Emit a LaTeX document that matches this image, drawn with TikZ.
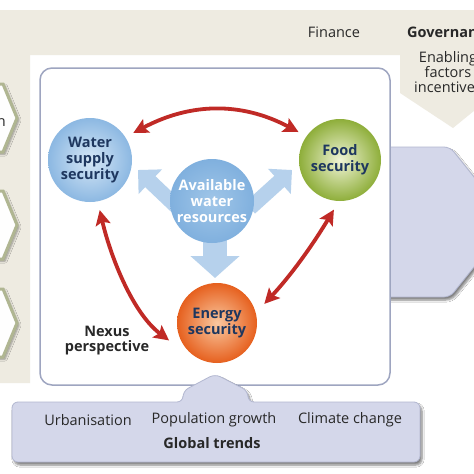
\documentclass[tikz,border=0pt]{standalone}
\usepackage{fontspec}
\setmainfont{Open Sans}
\usetikzlibrary{arrows.meta,shadows.blur}
\definecolor{beige}{RGB}{238,235,225}
\definecolor{lav}{RGB}{212,215,234}
\definecolor{lavline}{RGB}{178,183,208}
\definecolor{framec}{RGB}{158,165,192}
\definecolor{navy}{RGB}{30,55,95}
\definecolor{arrred}{RGB}{192,42,38}
\definecolor{fatblue}{RGB}{182,209,236}
\definecolor{hexline}{RGB}{176,182,146}
\definecolor{txt}{RGB}{40,40,40}
\begin{document}
\begin{tikzpicture}[x=1pt,y=-1pt,
  lbl/.style={font=\fontsize{14.5}{15}\selectfont, text=txt, inner sep=0pt},
  blbl/.style={lbl, font=\fontsize{14.5}{15}\selectfont\bfseries},
  ball/.style={circle, inner sep=0pt, align=center, font=\fontsize{14.5}{16}\selectfont\bfseries, text=navy},
  redarrow/.style={draw=arrred, line width=3.8pt, {Stealth[length=15pt,width=15pt,inset=3pt]}-{Stealth[length=15pt,width=15pt,inset=3pt]}},
  fatarrow/.style={draw=fatblue, line width=15pt, -{Triangle[length=17pt,width=33pt]}},
  panel/.style={fill=lav, draw=lavline, line width=0.8pt, rounded corners=6, blur shadow={shadow xshift=2pt, shadow yshift=-3pt, shadow blur steps=6, shadow opacity=50}},
  hexshape/.style={fill=white!96!beige, draw=hexline, line width=3pt, blur shadow={shadow xshift=2pt, shadow yshift=-2pt, shadow blur steps=5, shadow opacity=40}},
]
\useasboundingbox (0,0) rectangle (474,474);
\clip (0,0) rectangle (474,474);
\fill[white] (0,0) rectangle (474,474);
% beige background band
\fill[beige] (0,10) -- (480,10) -- (480,106) -- (453,128) -- (400,93) -- (400,55) -- (30,55) -- (30,383) -- (0,383) -- cycle;
% left hexagons
\foreach \c in {118,225,323}
  \draw[hexshape] (-30,\c-34) -- (3,\c-34) -- (17,\c) -- (3,\c+34) -- (-30,\c+34) -- cycle;
\node[lbl, anchor=east] (ntext) at (6,123) {n};
% right lavender arrow shape
\draw[panel] (380,147) -- (450,147) -- (510,222) -- (450,297) -- (380,297) -- cycle;
% nexus frame
\draw[framec, line width=1.5pt, fill=white, rounded corners=12] (40,68) rectangle (390,385);
% top labels
\node[lbl] (fin) at (334,32) {Finance};
\node[blbl, anchor=west] (gov) at (407,32) {Governance};
\node[lbl, align=center] (enab) at (448,72) {Enabling\\factors\\incentives};
% fat blue arrows
\coordinate (lt) at (178,208);
\coordinate (ltip) at (138,170);
\coordinate (rt) at (250,208);
\coordinate (rtip) at (292,170);
\coordinate (dt) at (215,235);
\coordinate (dtip) at (215,278);
\draw[fatarrow] (lt) -- (ltip);
\draw[fatarrow] (rt) -- (rtip);
\draw[fatarrow, line width=24pt, -{Triangle[length=22pt,width=48pt]}] (dt) -- (dtip);
% circles
\node[ball, minimum size=84pt, outer sep=9pt, inner color={rgb,255:red,214;green,231;blue,246}, outer color={rgb,255:red,140;green,184;blue,226}] (water) at (90,160) {Water\\supply\\security};
\node[ball, minimum size=82pt, outer sep=9pt, inner color={rgb,255:red,240;green,244;blue,214}, outer color={rgb,255:red,142;green,174;blue,58}] (food) at (340,160) {Food\\security};
\node[ball, minimum size=84pt, outer sep=0pt, text=white, inner color={rgb,255:red,160;green,198;blue,232}, outer color={rgb,255:red,128;green,176;blue,222}] (avail) at (212,201) {Available\\water\\resources};
\node[ball, minimum size=80pt, outer sep=11pt, inner color={rgb,255:red,250;green,200;blue,160}, outer color={rgb,255:red,230;green,96;blue,30}] (energy) at (217,323) {Energy\\security};
% red double arrows
\draw[redarrow] (water.32) to[out=28,in=152] (food.146);
\draw[redarrow] (water.281) to[out=-77,in=143,looseness=0.8] (energy.200);
\draw[redarrow] (food.263) to[out=239,in=47,looseness=0.88] (energy.22);
% nexus label
\node[blbl, align=center] (nexus) at (107,341) {Nexus\\perspective};
% global trends box
\draw[panel] (12,402) -- (183,402) -- (183,391) -- (215,374) -- (248,391) -- (248,402) -- (420,402) -- (420,462) -- (12,462) -- cycle;
\node[lbl] (urb) at (88,420) {Urbanisation};
\node[lbl] (pop) at (214,420) {Population growth};
\node[lbl] (clim) at (350,420) {Climate change};
\node[blbl] (glob) at (212,443) {Global trends};
\end{tikzpicture}
\end{document}
